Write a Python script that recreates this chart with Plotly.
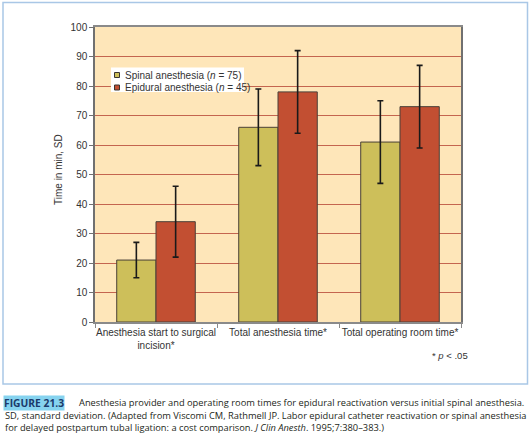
import plotly.graph_objects as go

categories = ["Anesthesia start to surgical<br>incision*", "Total anesthesia time*", "Total operating room time*"]
spinal = [21, 66, 61]
spinal_sd = [6, 13, 14]
epidural = [34, 78, 73]
epidural_sd = [12, 14, 14]
series_names = ["Spinal anesthesia (<i>n</i> = 75)", "Epidural anesthesia (<i>n</i> = 45)"]
y_ticks = list(range(0, 101, 10))

W, H = 530, 437
L, R, T, B = 95, 461, 27, 322

def px(x):
    return (x - L) / (R - L)

def py(y):
    return (B - y) / (B - T)

col_sp = "#CDBF5A"
col_ep = "#C24F32"
edge = "#4a4038"
font_ax = "Liberation Sans, Arial, sans-serif"

fig = go.Figure()
fig.add_trace(go.Bar(x=categories, y=spinal, name=series_names[0], marker=dict(color=col_sp, line=dict(color=edge, width=1)),
                     error_y=dict(type="data", array=spinal_sd, color="#1a1a1a", thickness=1.6, width=3), showlegend=False))
fig.add_trace(go.Bar(x=categories, y=epidural, name=series_names[1], marker=dict(color=col_ep, line=dict(color=edge, width=1)),
                     error_y=dict(type="data", array=epidural_sd, color="#1a1a1a", thickness=1.6, width=3), showlegend=False))

shapes = []
annotations = []
# outer frame
shapes.append(dict(type="rect", xref="paper", yref="paper", x0=px(3), x1=px(527.5), y0=py(384), y1=py(2.5),
                   line=dict(color="#a9c7e6", width=1.5), fillcolor="rgba(0,0,0,0)", layer="below"))
# legend
shapes.append(dict(type="rect", xref="paper", yref="paper", x0=px(111), x1=px(244), y0=py(92), y1=py(67.5),
                   line=dict(width=0), fillcolor="white", layer="above"))
leg_cols = [col_sp, col_ep]
for i, (nm, c) in enumerate(zip(series_names, leg_cols)):
    yc = 75 + i * 12.5
    shapes.append(dict(type="rect", xref="paper", yref="paper", x0=px(114.5), x1=px(119.5), y0=py(yc + 2.5), y1=py(yc - 2.5),
                       line=dict(color="#3a3530", width=1), fillcolor=c, layer="above"))
    annotations.append(dict(text=nm, xref="paper", yref="paper", x=px(122.5), y=py(yc), xanchor="left", yanchor="middle",
                            showarrow=False, font=dict(family=font_ax, size=10, color="#333")))

# y-axis title
annotations.append(dict(text="Time in min, SD", xref="paper", yref="paper", x=px(58), y=py(170), textangle=-90,
                        xanchor="center", yanchor="middle", showarrow=False, font=dict(family=font_ax, size=10, color="#333")))
# footnote
annotations.append(dict(text="* <i>p</i> < .05", xref="paper", yref="paper", x=px(430), y=py(355), xanchor="left",
                        yanchor="middle", showarrow=False, font=dict(family=font_ax, size=9.5, color="#333")))
# caption
cap_font = "Open Sans, Noto Sans, sans-serif"
annotations.append(dict(text="<b>FIGURE 21.3</b>", xref="paper", yref="paper", x=px(3), y=py(403), xanchor="left", yanchor="middle",
                        showarrow=False, bgcolor="#86d3ef", borderpad=0, font=dict(family=cap_font, size=10.3, color="#1b3a6b")))
cap_lines = [
    "Anesthesia provider and operating room times for epidural reactivation versus initial spinal anesthesia.",
    "SD, standard deviation. (Adapted from Viscomi CM, Rathmell JP. Labor epidural catheter reactivation or spinal anesthesia",
    "for delayed postpartum tubal ligation: a cost comparison. <i>J Clin Anesth</i>. 1995;7:380–383.)",
]
cap_x = [77, 3, 3]
cap_y = [403, 415, 427]
for t, x, y in zip(cap_lines, cap_x, cap_y):
    annotations.append(dict(text=t, xref="paper", yref="paper", x=px(x), y=py(y), xanchor="left", yanchor="middle",
                            showarrow=False, font=dict(family=cap_font, size=9.3, color="#231f20")))

fig.update_layout(
    width=W, height=H,
    margin=dict(l=L, r=W - R, t=T, b=H - B),
    paper_bgcolor="white", plot_bgcolor="#FEE6B9",
    barmode="group", bargap=0.356, bargroupgap=0,
    shapes=shapes, annotations=annotations,
    font=dict(family=font_ax, size=10, color="#333"),
    xaxis=dict(showline=True, linecolor="#8a8a8a", linewidth=1.5, mirror=True, ticks="outside", tickson="boundaries",
               ticklen=4, tickcolor="#8a8a8a", showgrid=False, tickangle=0, tickfont=dict(size=10, color="#333")),
    yaxis=dict(range=[0, 100], tickvals=y_ticks, showline=True, linecolor="#707070", linewidth=1.5, mirror=True,
               ticks="outside", ticklen=4, tickcolor="#707070", gridcolor="#C4654F", gridwidth=1,
               tickfont=dict(size=10, color="#333"), zeroline=False),
)

fig.write_html("out.html")
